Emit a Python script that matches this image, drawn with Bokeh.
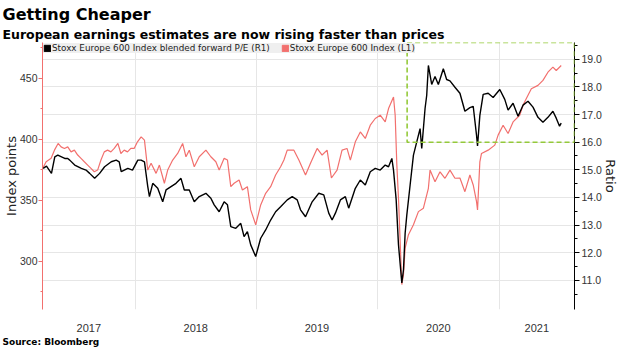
import numpy as np
import pandas as pd
from bokeh.plotting import figure
from bokeh.models import (Range1d, LinearAxis, FixedTicker, SingleIntervalTicker, Grid,
                          Legend, LegendItem, BoxAnnotation, Title, NumeralTickFormatter,
                          ColumnDataSource)
from bokeh.embed import file_html
from bokeh.resources import INLINE

# ---------------- data ----------------
DAY0 = "2018-01-01"  # day offsets below are counted from this date

# Stoxx Europe 600 Index (left axis, index points)
index_days = [-278, -268, -253, -243, -232, -223, -213, -203, -193, -183,
              -173, -163, -153, -143, -133, -123, -113, -103, -93, -83,
              -73, -63, -52, -43, -33, -23, -13, -3,
              7, 18, 28, 38, 48, 63, 73, 88, 98, 113,
              128, 143, 153, 163, 178, 193, 213, 228, 243, 253,
              268, 278, 288, 298, 313, 323, 338, 348, 363, 378,
              393, 408, 423, 438, 448, 458, 478, 493, 513, 528,
              548, 563, 578, 591, 608, 623, 638, 648, 663, 678,
              693, 708, 723, 738, 753, 763, 778, 783, 788, 793,
              798, 803, 808, 813, 823, 838, 853, 868, 883, 888,
              903, 918, 933, 948, 963, 978, 993, 1008, 1018, 1028,
              1031, 1038, 1043, 1063, 1083, 1093, 1108, 1123, 1138, 1158,
              1168, 1178, 1193, 1213, 1228, 1243, 1258, 1268, 1283]
index_vals = [376.4, 381.5, 384.3, 391.0, 396.5, 393.7, 392.4, 393.7, 389.6, 391.0,
              387.0, 384.3, 381.5, 378.8, 376.1, 373.3, 374.7, 382.9, 389.6, 391.0,
              389.6, 392.4, 396.5, 388.3, 391.0, 389.6, 392.4, 392.4,
              397.8, 401.9, 399.2, 374.7, 380.2, 372.0, 378.8, 363.9, 374.7, 382.9,
              388.3, 396.5, 385.6, 391.0, 377.4, 385.6, 391.0, 385.6, 381.5, 374.7,
              384.3, 382.9, 361.1, 363.9, 366.6, 358.4, 361.1, 342.1, 329.9, 346.2,
              355.7, 361.1, 370.7, 377.4, 382.9, 391.0, 391.0, 382.9, 370.7, 380.2,
              392.4, 387.0, 391.0, 368.2, 374.7, 391.0, 392.4, 382.9, 397.8, 405.9,
              400.6, 411.4, 416.9, 419.6, 414.1, 425.0, 434.5, 419.6, 378.8, 351.7,
              316.3, 281.0, 289.2, 310.9, 321.8, 329.9, 340.7, 343.5, 359.8, 374.7,
              365.2, 373.3, 368.0, 374.7, 368.0, 368.2, 357.0, 370.7, 362.5, 348.9,
              342.1, 381.5, 388.3, 391.0, 395.1, 403.3, 411.4, 404.6, 414.1, 419.6,
              427.7, 433.2, 441.3, 444.0, 448.1, 454.8, 458.9, 456.2, 460.3]

# Stoxx Europe 600 blended forward P/E (right axis, ratio)
pe_days = [-277, -267, -252, -242, -233, -212, -203, -197, -182, -162,
           -148, -137, -122, -107, -92, -72, -57, -48, -42, -22,
           -8, 8, 18, 28, 38, 43, 53, 68, 83, 93,
           108, 123, 138, 148, 163, 178, 193, 213, 228, 238,
           253, 268, 278, 288, 303, 318, 328, 338, 348, 363,
           378, 393, 408, 423, 438, 458, 473, 488, 498, 513,
           533, 553, 568, 583, 593, 603, 618, 633, 643, 658,
           663, 678, 693, 708, 723, 738, 753, 763, 773, 778,
           786, 793, 803, 808, 813, 818, 828, 838, 848, 858,
           863, 873, 878, 883, 893, 903, 913, 928, 938, 948,
           963, 978, 993, 1008, 1018, 1028, 1031, 1038, 1048, 1063,
           1078, 1098, 1113, 1123, 1138, 1153, 1168, 1183, 1198, 1213,
           1228, 1243, 1258, 1268, 1278, 1283]
pe_vals = [15.05, 15.13, 14.87, 15.47, 15.53, 15.41, 15.41, 15.35, 15.17, 15.05,
           14.99, 14.87, 14.69, 14.87, 15.11, 15.29, 15.35, 15.29, 14.93, 15.05,
           14.99, 15.35, 15.35, 15.29, 14.39, 14.03, 14.51, 14.33, 13.84, 14.27,
           14.39, 14.51, 14.69, 14.27, 14.27, 13.84, 14.03, 14.15, 13.97, 13.73,
           13.48, 13.84, 13.73, 12.94, 12.88, 13.06, 12.58, 12.76, 12.28, 11.86,
           12.52, 12.82, 13.18, 13.48, 13.66, 13.91, 14.03, 13.91, 13.55, 13.30,
           13.84, 14.15, 14.09, 13.43, 13.18, 13.43, 13.91, 14.03, 13.61, 14.15,
           14.33, 14.63, 14.45, 14.93, 15.05, 14.99, 15.17, 15.11, 15.41, 14.99,
           13.91, 12.28, 10.90, 11.38, 12.70, 13.36, 14.45, 15.53, 16.01, 16.49,
           15.77, 17.22, 17.70, 18.78, 18.09, 18.38, 18.09, 18.66, 18.27, 18.22,
           17.99, 17.77, 17.12, 17.25, 17.30, 16.25, 15.86, 16.97, 17.73, 17.77,
           17.62, 17.91, 17.55, 17.16, 17.41, 16.94, 17.34, 17.48, 17.27, 16.90,
           16.72, 16.90, 17.12, 16.87, 16.58, 16.69]

year_labels = ["2017", "2018", "2019", "2020", "2021"]
ratio_ticks = [11, 12, 13, 14, 15, 16, 17, 18, 19]
index_tick_step = 50

x_start_date = "2017-03-28"
x_end_date = "2021-08-16"
index_lo, index_hi = 260.6, 479.1
ratio_lo, ratio_hi = 9.94, 19.61

box_start_date = "2020-03-30"   # highlighted period
box_floor = 16.0                # ratio level of the highlight's lower edge

title_text = "Getting Cheaper"
subtitle_text = "European earnings estimates are now rising faster than prices"
source_text = "Source: Bloomberg"
pe_label = "Stoxx Europe 600 Index blended forward P/E (R1)"
index_label = "Stoxx Europe 600 Index (L1)"

# ---------------- build ----------------
def ms(d):
    return float(pd.Timestamp(d).value // 10**6)

base = pd.Timestamp(DAY0)
index_x = base + pd.to_timedelta(index_days, unit="D")
pe_x = base + pd.to_timedelta(pe_days, unit="D")

RED = "#f2706e"
GRID = "#e6e6e6"
TXT = "#333333"

x0, x1 = ms(x_start_date), ms(x_end_date)

p = figure(width=620, height=348, x_axis_type="datetime",
           x_range=Range1d(x0, x1), y_range=Range1d(index_lo, index_hi),
           output_backend="svg", toolbar_location=None, title=None,
           min_border_left=41, min_border_right=45, min_border_top=42, min_border_bottom=39)
p.outline_line_color = None
p.background_fill_color = "white"
p.border_fill_color = "white"

p.extra_y_ranges = {"ratio": Range1d(ratio_lo, ratio_hi)}

# left axis (index points)
ya = p.yaxis[0]
ya.ticker = SingleIntervalTicker(interval=index_tick_step, num_minor_ticks=2)
ya.axis_line_color = RED
ya.major_tick_line_color = RED
ya.minor_tick_line_color = RED
ya.major_tick_in = 0
ya.major_tick_out = 4
ya.minor_tick_in = 0
ya.minor_tick_out = 2
ya.major_label_text_font = "Liberation Sans"
ya.major_label_text_font_size = "10.5px"
ya.major_label_text_color = TXT
ya.major_label_standoff = 1
ya.axis_label = "Index points"
ya.axis_label_text_font = "DejaVu Sans"
ya.axis_label_text_font_size = "13px"
ya.axis_label_text_font_style = "normal"
ya.axis_label_text_color = "#222222"
ya.axis_label_standoff = -2

# right axis (ratio)
ratio_ticker = FixedTicker(ticks=ratio_ticks, minor_ticks=[t - 0.5 for t in ratio_ticks] + [ratio_ticks[-1] + 0.5])
ra = LinearAxis(y_range_name="ratio", ticker=ratio_ticker,
                formatter=NumeralTickFormatter(format="0.0"))
ra.axis_line_color = "black"
ra.major_tick_line_color = "black"
ra.minor_tick_line_color = "black"
ra.major_tick_in = 0
ra.major_tick_out = 5
ra.minor_tick_in = 0
ra.minor_tick_out = 3
ra.major_label_text_font = "Liberation Sans"
ra.major_label_text_font_size = "10.5px"
ra.major_label_text_color = TXT
ra.major_label_standoff = 2
ra.axis_label = "Ratio"
ra.axis_label_text_font = "DejaVu Sans"
ra.axis_label_text_font_size = "13px"
ra.axis_label_text_font_style = "normal"
ra.axis_label_text_color = "#222222"
ra.axis_label_standoff = -2
p.add_layout(ra, "right")

# x axis: year labels centred on the visible part of each year
label_ticks = []
overrides = {}
for y in year_labels:
    a = max(ms(f"{y}-01-01"), x0)
    b = min(ms(f"{int(y) + 1}-01-01"), x1)
    m = (a + b) / 2.0
    label_ticks.append(m)
    overrides[m] = y
xa = p.xaxis[0]
xa.ticker = FixedTicker(ticks=label_ticks)
xa.major_label_overrides = overrides
xa.axis_line_color = None
xa.major_tick_line_color = None
xa.minor_tick_line_color = None
xa.major_label_standoff = 8
xa.major_label_text_font = "Liberation Sans"
xa.major_label_text_font_size = "11px"
xa.major_label_text_color = TXT

# grids
year_starts = [ms(f"{int(y)}-01-01") for y in year_labels[1:]]
p.xgrid[0].ticker = FixedTicker(ticks=year_starts)
p.xgrid[0].grid_line_color = GRID
p.ygrid[0].visible = False
hgrid = Grid(dimension=1, ticker=ratio_ticker, y_range_name="ratio", grid_line_color=GRID)
p.add_layout(hgrid, "center")

# highlight box
box = BoxAnnotation(left=ms(box_start_date), bottom=box_floor, y_range_name="ratio",
                    fill_alpha=0, line_color="#94c93a", line_alpha=1.0, line_width=1.6,
                    line_dash="5 3")
p.add_layout(box)

# series
src_idx = ColumnDataSource(dict(x=index_x, y=index_vals))
src_pe = ColumnDataSource(dict(x=pe_x, y=pe_vals))
p.line("x", "y", source=src_idx, color=RED, line_width=1.2)
p.line("x", "y", source=src_pe, color="black", line_width=1.4, y_range_name="ratio")

# legend swatches (renderers with no drawable geometry, used only for the legend)
nan = [float("nan")]
sw_pe = p.quad(left=nan, right=nan, top=nan, bottom=nan, color="black")
sw_idx = p.quad(left=nan, right=nan, top=nan, bottom=nan, color=RED)
legend = Legend(items=[LegendItem(label=pe_label, renderers=[sw_pe]),
                       LegendItem(label=index_label, renderers=[sw_idx])],
                orientation="horizontal", location="top_left",
                background_fill_color="#efefef", background_fill_alpha=1,
                border_line_color=None, label_text_font="DejaVu Sans",
                label_text_font_size="8.8px", label_text_color="#222222",
                glyph_width=8, glyph_height=8, label_height=10, label_standoff=1,
                spacing=11, padding=4, margin=1)
p.add_layout(legend)

# titles
sub = Title(text=subtitle_text, align="left", offset=-40, text_font="DejaVu Sans",
            text_font_size="12.5px", text_font_style="bold", text_color="black", standoff=2)
main = Title(text=title_text, align="left", offset=-40, text_font="DejaVu Sans",
             text_font_size="16px", text_font_style="bold", text_color="black", standoff=0)
p.add_layout(sub, "above")
p.add_layout(main, "above")
src = Title(text=source_text, align="left", offset=-40, text_font="DejaVu Sans",
            text_font_size="9px", text_font_style="bold", text_color="black", standoff=0)
p.add_layout(src, "below")

open("out.html", "w").write(file_html(p, INLINE))
